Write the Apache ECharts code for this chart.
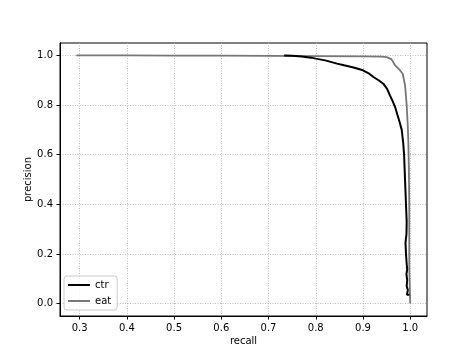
<!DOCTYPE html>
<html>
<head>
<meta charset="utf-8">
<script src="https://cdn.jsdelivr.net/npm/echarts@6/dist/echarts.min.js"></script>
<style>html,body{margin:0;padding:0;background:#fff}#c{width:474px;height:355px}</style>
</head>
<body>
<div id="c"></div>
<script>
var seriesNames = ['ctr', 'eat'];
var xTicks = [0.3, 0.4, 0.5, 0.6, 0.7, 0.8, 0.9, 1.0];
var yTicks = [0.0, 0.2, 0.4, 0.6, 0.8, 1.0];

var ctrRecall = [0.733, 0.75, 0.77, 0.79, 0.80, 0.82, 0.845, 0.86, 0.88, 0.90, 0.912, 0.922, 0.933, 0.943, 0.951, 0.957, 0.963, 0.968, 0.973, 0.977, 0.982, 0.985, 0.987, 0.989, 0.991, 0.9925, 0.992, 0.990, 0.991, 0.9925, 0.9935, 0.992, 0.9935, 0.9925, 0.995, 0.993, 0.9985];
var ctrPrecision = [1.0, 0.999, 0.996, 0.991, 0.987, 0.98, 0.967, 0.96, 0.951, 0.94, 0.928, 0.913, 0.9, 0.886, 0.865, 0.839, 0.815, 0.792, 0.76, 0.735, 0.7, 0.65, 0.6, 0.5, 0.4, 0.33, 0.28, 0.245, 0.2, 0.16, 0.137, 0.12, 0.095, 0.07, 0.055, 0.036, 0.036];

var eatRecall = [0.293, 0.4, 0.5, 0.6, 0.7, 0.8, 0.9, 0.94, 0.95, 0.96, 0.968, 0.976, 0.984, 0.989, 0.9925, 0.9947, 0.996, 0.997, 0.998, 0.998, 0.998, 1.0, 1.0];
var eatPrecision = [1.0, 1.0, 0.999, 0.999, 0.998, 0.997, 0.996, 0.995, 0.993, 0.985, 0.96, 0.945, 0.926, 0.88, 0.8, 0.72, 0.65, 0.55, 0.4, 0.2, 0.14, 0.14, 0.0];

function pairs(xs, ys) { return xs.map(function (x, i) { return [x, ys[i]]; }); }

var font = 'DejaVu Sans';
var chart = echarts.init(document.getElementById('c'), null, {renderer: 'canvas'});
chart.setOption({
  animation: false,
  backgroundColor: '#fff',
  textStyle: {fontFamily: font},
  grid: {left: 60, right: 47, top: 43, bottom: 39, show: true, borderColor: '#000', borderWidth: 1, containLabel: false},
  legend: {
    orient: 'vertical', left: 64, top: 276,
    data: seriesNames,
    icon: 'rect', itemWidth: 22, itemHeight: 2, itemGap: 4, itemTextGap: 8,
    padding: [3, 6, 3, 4],
    borderColor: '#cccccc', borderWidth: 1, borderRadius: 3, backgroundColor: 'rgba(255,255,255,0.8)',
    textStyle: {fontFamily: font, fontSize: 10, color: '#000', lineHeight: 12}
  },
  xAxis: {
    type: 'value', min: 0.2585, max: 1.0355,
    name: 'recall', nameLocation: 'middle', nameGap: 20, nameMoveOverlap: false,
    nameTextStyle: {fontFamily: font, fontSize: 10, color: '#000'},
    axisLine: {show: true, onZero: false, lineStyle: {color: '#000', width: 1}},
    axisTick: {show: true, inside: false, length: 3.5, customValues: xTicks, lineStyle: {color: '#000'}},
    axisLabel: {customValues: xTicks, margin: 7, fontFamily: font, fontSize: 10, color: '#000', formatter: function (v) { return v.toFixed(1); }},
    splitLine: {show: true, customValues: xTicks, lineStyle: {color: '#b0b0b0', type: [1, 1.5], width: 0.8}}
  },
  yAxis: {
    type: 'value', min: -0.05, max: 1.05,
    name: 'precision', nameLocation: 'middle', nameGap: 27, nameRotate: 90, nameMoveOverlap: false,
    nameTextStyle: {fontFamily: font, fontSize: 10, color: '#000'},
    axisLine: {show: true, onZero: false, lineStyle: {color: '#000', width: 1}},
    axisTick: {show: true, inside: false, length: 3.5, customValues: yTicks, lineStyle: {color: '#000'}},
    axisLabel: {customValues: yTicks, margin: 7, fontFamily: font, fontSize: 10, color: '#000', formatter: function (v) { return v.toFixed(1); }},
    splitLine: {show: true, customValues: yTicks, lineStyle: {color: '#b0b0b0', type: [1, 1.5], width: 0.8}}
  },
  series: [
    {name: 'ctr', type: 'line', data: pairs(ctrRecall, ctrPrecision), symbol: 'none', color: '#000', lineStyle: {color: '#000', width: 2}, z: 3},
    {name: 'eat', type: 'line', data: pairs(eatRecall, eatPrecision), symbol: 'none', color: '#777', lineStyle: {color: '#777', width: 1.8}, z: 2}
  ]
});
</script>
</body>
</html>
